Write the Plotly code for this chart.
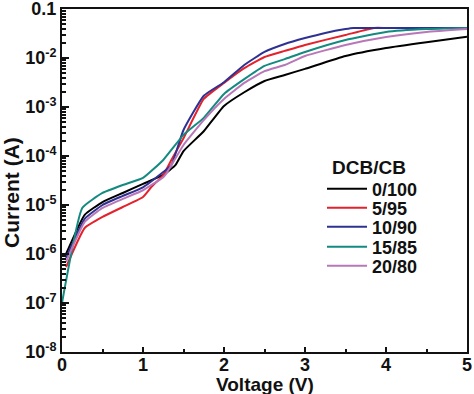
import plotly.graph_objects as go

# ---- data ----
series_names = ["0/100", "5/95", "10/90", "15/85", "20/80"]
series_colors = ["#000000", "#e3222b", "#2e3192", "#138a80", "#b877b8"]

volt_0_100 = [0.05, 0.28, 0.5, 0.75, 1.0, 1.25, 1.4, 1.5, 1.75, 2.0, 2.25, 2.5, 2.75, 3.0, 3.5, 4.0, 4.5, 5.0]
cur_0_100 = [1.0e-6, 6.3e-6, 1.15e-5, 1.76e-5, 2.7e-5, 4.1e-5, 6.5e-5, 1.26e-4, 3.2e-4, 1.05e-3, 2.0e-3,
             3.4e-3, 4.5e-3, 6.0e-3, 1.1e-2, 1.6e-2, 2.1e-2, 2.7e-2]

volt_5_95 = [0.05, 0.28, 0.5, 0.75, 1.0, 1.1, 1.25, 1.35, 1.5, 1.75, 2.0, 2.25, 2.5, 2.75, 3.0, 3.5, 3.85, 4.0, 4.5, 5.0]
cur_5_95 = [5.4e-7, 3.4e-6, 5.7e-6, 9.1e-6, 1.46e-5, 2.3e-5, 4.1e-5, 8.3e-5, 2.3e-4, 1.46e-3, 3.1e-3,
            6.2e-3, 1.05e-2, 1.4e-2, 1.85e-2, 2.95e-2, 4.1e-2, 4.1e-2, 4.1e-2, 4.1e-2]

volt_10_90 = [0.05, 0.28, 0.5, 0.75, 1.0, 1.25, 1.35, 1.5, 1.75, 2.0, 2.25, 2.5, 2.75, 3.0, 3.25, 3.5, 3.6, 4.0, 4.5, 5.0]
cur_10_90 = [8.3e-7, 5.2e-6, 1.0e-5, 1.53e-5, 2.3e-5, 4.7e-5, 6.5e-5, 3.4e-4, 1.7e-3, 3.2e-3, 7.2e-3,
             1.33e-2, 1.93e-2, 2.55e-2, 3.25e-2, 3.9e-2, 4.1e-2, 4.1e-2, 4.1e-2, 4.1e-2]

volt_15_85 = [0.0, 0.25, 0.5, 0.75, 1.0, 1.25, 1.5, 1.75, 2.0, 2.25, 2.5, 2.75, 3.0, 3.5, 4.0, 4.5, 5.0]
cur_15_85 = [1.0e-7, 8.7e-6, 1.76e-5, 2.56e-5, 3.56e-5, 8.3e-5, 2.7e-4, 6.0e-4, 1.85e-3, 3.7e-3, 6.9e-3,
             9.5e-3, 1.33e-2, 2.33e-2, 3.4e-2, 3.9e-2, 4.1e-2]

volt_20_80 = [0.05, 0.28, 0.5, 0.75, 1.0, 1.25, 1.3, 1.5, 1.75, 2.0, 2.25, 2.5, 2.75, 3.0, 3.5, 4.0, 4.5, 5.0]
cur_20_80 = [6.9e-7, 4.5e-6, 8.7e-6, 1.33e-5, 2.0e-5, 3.7e-5, 4.7e-5, 1.68e-4, 5.4e-4, 1.46e-3, 3.1e-3,
             5.4e-3, 7.2e-3, 1.1e-2, 1.84e-2, 2.68e-2, 3.4e-2, 3.9e-2]

x_tick_vals = [0, 1, 2, 3, 4, 5]
y_tick_vals = [1e-8, 1e-7, 1e-6, 1e-5, 1e-4, 1e-3, 1e-2, 1e-1]
y_tick_text = ["10<sup>-8</sup>", "10<sup>-7</sup>", "10<sup>-6</sup>", "10<sup>-5</sup>",
               "10<sup>-4</sup>", "10<sup>-3</sup>", "10<sup>-2</sup>", "0.1"]
y_minor_vals = [m * 10.0 ** e for e in range(-8, -1) for m in range(2, 10)]

legend_title = "DCB/CB"
x_title = "Voltage (V)"
y_title = "Current (A)"

volts = [volt_0_100, volt_5_95, volt_10_90, volt_15_85, volt_20_80]
currents = [cur_0_100, cur_5_95, cur_10_90, cur_15_85, cur_20_80]

FONT = "Liberation Sans, Arial, sans-serif"
INK = "#111"

fig = go.Figure()
legend_ids = ["legend", "legend2", "legend3", "legend4", "legend5"]
for i, (name, col, vx, cy) in enumerate(zip(series_names, series_colors, volts, currents)):
    fig.add_trace(go.Scatter(x=vx, y=cy, mode="lines", name=name,
                             line=dict(color=col, width=2, shape="spline", smoothing=0.4),
                             legend=legend_ids[i]))

# plot-area geometry in pixels
L, R, T, B = 62, 467, 9, 352
W, H = R - L, B - T

def px_x(px):
    return (px - L) / W

def px_y(py):
    return (B - py) / H

# legend rows (one legend per entry to control row spacing)
row_px = [189, 208, 227, 247, 266]
layout_legends = {}
for lid, py in zip(legend_ids, row_px):
    layout_legends[lid] = dict(
        x=px_x(322), xanchor="left",
        y=px_y(py), yanchor="middle",
        bgcolor="rgba(0,0,0,0)", borderwidth=0,
        font=dict(family=FONT, size=18, color=INK, weight="bold"),
        itemwidth=40, tracegroupgap=0,
    )

fig.update_layout(
    width=474, height=394,
    margin=dict(l=L, r=474 - R, t=T, b=394 - B),
    paper_bgcolor="white", plot_bgcolor="white",
    font=dict(family=FONT, size=18, color=INK, weight="bold"),
    showlegend=True,
    **layout_legends,
)

fig.update_xaxes(
    range=[0, 5], tickvals=x_tick_vals, automargin=False, ticklabeloverflow="allow",
    ticklabelstandoff=-5,
    ticks="inside", ticklen=5, tickwidth=2, tickcolor=INK,
    minor=dict(ticks="inside", ticklen=3, tickwidth=2, dtick=0.5, tickcolor=INK, showgrid=False),
    showline=True, linewidth=2, linecolor=INK, mirror=True,
    showgrid=False, zeroline=False,
    tickfont=dict(family=FONT, size=18, color=INK, weight="bold"),
)

fig.update_yaxes(
    type="log", range=[-8, -1], automargin=False, ticklabeloverflow="allow",
    tickmode="array", tickvals=y_tick_vals, ticktext=y_tick_text,
    ticks="inside", ticklen=7, tickwidth=2, tickcolor=INK,
    minor=dict(tickmode="array", tickvals=y_minor_vals, ticks="inside", ticklen=4,
               tickwidth=1.5, tickcolor=INK, showgrid=False),
    showline=True, linewidth=2, linecolor=INK, mirror=True,
    showgrid=False, zeroline=False,
    tickfont=dict(family=FONT, size=18, color=INK, weight="bold"),
)

fig.add_annotation(
    xref="paper", yref="paper", x=px_x(330), y=px_y(167),
    xanchor="left", yanchor="middle", showarrow=False, text=legend_title,
    font=dict(family=FONT, size=19, color=INK, weight="bold"),
)
fig.add_annotation(
    xref="paper", yref="paper", x=0.5, y=px_y(384),
    xanchor="center", yanchor="middle", showarrow=False, text=x_title,
    font=dict(family=FONT, size=19, color=INK, weight="bold"),
)
fig.add_annotation(
    xref="paper", yref="paper", x=px_x(11), y=px_y(193),
    xanchor="center", yanchor="middle", showarrow=False, text=y_title, textangle=-90,
    font=dict(family=FONT, size=21, color=INK, weight="bold"),
)

fig.write_html("out.html", config={"displayModeBar": False},
               post_script="document.body.style.margin='0';")
